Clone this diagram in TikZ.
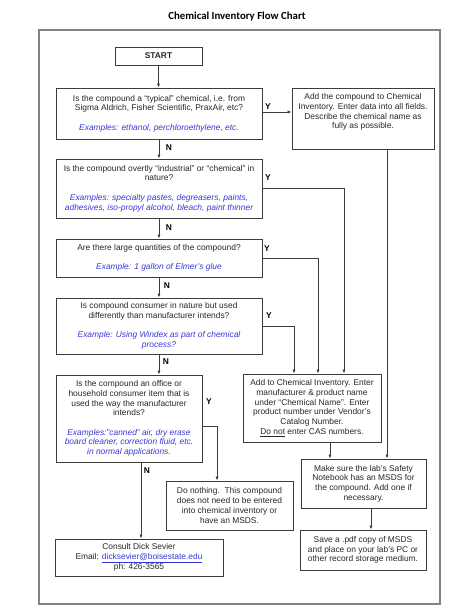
\documentclass[tikz,border=0pt]{standalone}
\usepackage{fontspec}
\setmainfont{Liberation Sans}
\newfontfamily\titlefont{Carlito}
\usetikzlibrary{arrows.meta}
\definecolor{linegray}{RGB}{60,60,60}
\definecolor{framegray}{RGB}{130,130,130}
\definecolor{exblue}{RGB}{55,55,215}
\newcommand{\ex}[1]{{\color{exblue}\itshape #1}}
\tikzset{
  box/.style={draw=linegray, line width=0.9pt, rectangle, inner sep=0pt, align=center,
    font=\fontsize{8.4}{9.7}\selectfont, text=black!85},
  txt/.style={inner sep=0pt, align=center, font=\fontsize{8.4}{9.7}\selectfont, text=black!85},
  yn/.style={inner sep=0pt, font=\fontsize{8.4}{9.7}\selectfont\bfseries},
  arr/.style={draw=linegray, line width=0.8pt, -{Latex[length=4pt,width=3.2pt]}},
  ln/.style={draw=linegray, line width=0.8pt}
}
\begin{document}
\begin{tikzpicture}[x=1pt,y=-1pt]
\useasboundingbox (0,0) rectangle (474,613);
\node[inner sep=0pt, font=\titlefont\fontsize{10.8}{12}\selectfont\bfseries] (title) at (237,17) {Chemical Inventory Flow Chart};
\draw[draw=framegray, line width=1.2pt] (39,30) rectangle (440,604);

\node[box, minimum width=87pt, minimum height=18pt] (start) at (158.5,56) {\textbf{START}};
\node[box, minimum width=206pt, minimum height=51pt] (q1) at (159,113.5)
  {Is the compound a “typical” chemical, i.e. from\\Sigma Aldrich, Fisher Scientific, PraxAir, etc?\\[9.7pt]\ex{Examples: ethanol, perchloroethylene, etc.}};
\node[box, minimum width=142pt, minimum height=61pt] (a1) at (363,118.5) {};
\node[txt] (a1t) at (363,112) {Add the compound to Chemical\\Inventory. Enter data into all fields.\\Describe the chemical name as\\fully as possible.};
\node[box, minimum width=206pt, minimum height=59pt] (q2) at (159,188.5)
  {Is the compound overtly “industrial” or “chemical” in\\nature?\\[9.7pt]\ex{Examples: specialty pastes, degreasers, paints,}\\\ex{adhesives, iso-propyl alcohol, bleach, paint thinner}};
\node[box, minimum width=206pt, minimum height=38pt] (q3) at (159,258)
  {Are there large quantities of the compound?\\[9.7pt]\ex{Example: 1 gallon of Elmer’s glue}};
\node[box, minimum width=206pt, minimum height=56pt] (q4) at (159,326)
  {Is compound consumer in nature but used\\differently than manufacturer intends?\\[9.7pt]\ex{Example: Using Windex as part of chemical}\\\ex{process?}};
\node[box, minimum width=146pt, minimum height=87pt] (q5) at (129,418.5)
  {Is the compound an office or\\household consumer item that is\\used the way the manufacturer\\intends?\\[9.7pt]\ex{Examples:”canned” air, dry erase}\\\ex{board cleaner, correction fluid, etc.}\\\ex{in normal applications.}};
\node[box, minimum width=138pt, minimum height=68pt] (aci) at (312,408)
  {Add to Chemical Inventory. Enter\\manufacturer \& product name\\under “Chemical Name”. Enter\\product number under Vendor’s\\Catalog Number.\\\underline{Do not} enter CAS numbers.};
\node[box, minimum width=125pt, minimum height=49pt] (safe) at (363.5,483.5)
  {Make sure the lab’s Safety\\Notebook has an MSDS for\\the compound. Add one if\\necessary.};
\node[box, minimum width=126pt, minimum height=40pt] (save) at (363,550)
  {Save a .pdf copy of MSDS\\and place on your lab’s PC or\\other record storage medium.};
\node[box, minimum width=127pt, minimum height=49pt] (nothing) at (229.5,505.5)
  {Do nothing.\ \ This compound\\does not need to be entered\\into chemical inventory or\\have an MSDS.};
\node[box, minimum width=168pt, minimum height=37pt] (consult) at (139,557.5)
  {Consult Dick Sevier\\Email: {\color{exblue}\underline{dicksevier@boisestate.edu}}\\ph: 426-3565};

% connectors
\draw[arr] (start.south) -- (start.south |- q1.north);
\draw[arr] ([yshift=1.5pt]q1.east) -- ([yshift=1.5pt]q1.east -| a1.west);
\draw[arr] (q1.south) -- (q2.north);
\draw[arr] (q2.south) -- (q3.north);
\draw[arr] (q3.south) -- (q4.north);
\draw[arr] (q4.south) -- (q4.south |- q5.north);
\draw[arr] (q2.east) -| ([xshift=32pt]aci.north);
\draw[arr] (q3.east) -| ([xshift=6pt]aci.north);
\draw[arr] (q4.east) -| ([xshift=-18pt]aci.north);
\draw[arr] ([yshift=-7.5pt]q5.east) -| ([xshift=-12.5pt]nothing.north);
\draw[arr] ([xshift=12pt]q5.south) -- ([xshift=12pt]q5.south |- consult.north);
\draw[arr] ([xshift=24pt]a1.south) -- ([xshift=24pt]a1.south |- safe.north);
\draw[arr] ([xshift=18pt]aci.south) -- ([xshift=18pt]aci.south |- safe.north);
\draw[arr] ([xshift=7.5pt]safe.south) -- ([xshift=7.5pt]safe.south |- save.north);

% labels
\node[yn] (y1) at (268,107) {Y};
\node[yn] (n1) at (169,148) {N};
\node[yn] (y2) at (268,178) {Y};
\node[yn] (n2) at (169,227.5) {N};
\node[yn] (y3) at (267,249) {Y};
\node[yn] (n3) at (167,286) {N};
\node[yn] (y4) at (269,316) {Y};
\node[yn] (n4) at (166,362) {N};
\node[yn] (y5) at (209,402) {Y};
\node[yn] (n5) at (147,471) {N};
\end{tikzpicture}
\end{document}
